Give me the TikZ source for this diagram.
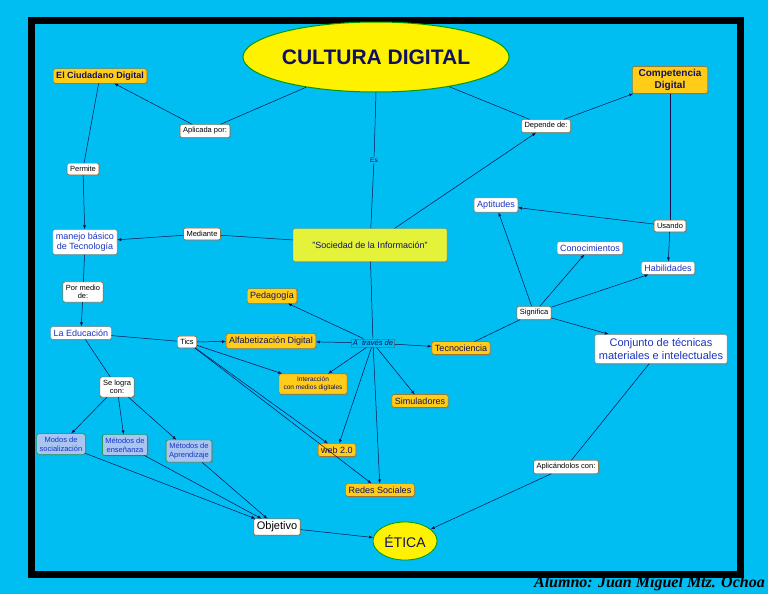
\documentclass[tikz,border=0pt]{standalone}
\usepackage{fontspec}
\setmainfont{Liberation Sans}
\newfontfamily\authfont{Liberation Serif}
\usetikzlibrary{arrows.meta,shapes.geometric,shadows}
\definecolor{bgblue}{HTML}{00BDF2}
\definecolor{ybox}{HTML}{FFCC1A}
\definecolor{lbl}{HTML}{1A33C0}
\definecolor{navy}{HTML}{101060}
\definecolor{lblue}{HTML}{A9C6F2}
\definecolor{sgreen}{HTML}{E4F23A}
\begin{document}
\begin{tikzpicture}[x=1pt,y=-1pt,
  base/.style={rounded corners=2pt,inner sep=3pt,font=\fontsize{9}{10.5}\selectfont,align=center,drop shadow={shadow xshift=1pt,shadow yshift=-1pt,fill=black!50}},
  ybx/.style={base,fill=ybox,draw=orange!70!black,text=navy},
  wlink/.style={base,fill=white,draw=orange!60!black,text=black,font=\fontsize{7.5}{8.5}\selectfont},
  wbx/.style={base,fill=white,draw=gray,text=lbl},
  lbx/.style={base,fill=lblue,draw=green!50!black,text=lbl,font=\fontsize{7.5}{9}\selectfont},
  ln/.style={draw=navy!80!black,line width=0.5pt},
  ar/.style={ln,-{Latex[length=4pt,width=3pt]}}]
\fill[bgblue] (0,0) rectangle (768,594);
\draw[black,line width=7pt] (31,21) rectangle (740,574);
\node[ellipse,fill=yellow,draw=green!60!black,line width=1pt,inner sep=0pt,minimum width=218pt,minimum height=70pt,text=navy,font=\bfseries\fontsize{21}{24}\selectfont] (cd) at (376,57) {CULTURA DIGITAL};
\node[ybx,font=\bfseries\fontsize{9}{10}\selectfont] (ciu) at (100,76) {El Ciudadano Digital};
\node[ybx,font=\bfseries\fontsize{10}{11.5}\selectfont,minimum width=75pt] (comp) at (670,80) {Competencia\\Digital};
\node[wlink] (apl) at (205,131) {Aplicada por:};
\node[wlink] (dep) at (546,126) {Depende de:};
\node[text=navy,font=\fontsize{6.5}{7}\selectfont,inner sep=1pt] (es) at (374,160) {Es};
\node[wlink] (perm) at (83,169) {Permite};
\node[wbx] (man) at (85,242) {manejo básico\\de Tecnología};
\node[wlink] (med) at (202,234) {Mediante};
\node[base,fill=sgreen,draw=gray,text=navy,minimum width=154pt,minimum height=33pt] (soc) at (370,245) {"Sociedad de la Información"};
\node[wbx] (apt) at (496,205) {Aptitudes};
\node[wlink] (usa) at (670,226) {Usando};
\node[wbx] (con) at (590,248) {Conocimientos};
\node[wbx] (hab) at (668,268) {Habilidades};
\node[wlink] (por) at (83,292) {Por medio\\de:};
\node[ybx] (ped) at (272,296) {Pedagogía};
\node[wlink] (sig) at (534,313) {Significa};
\node[wbx] (edu) at (81,333) {La Educación};
\node[wlink] (tic) at (187,342) {Tics};
\node[ybx] (alf) at (271,341) {Alfabetización Digital};
\node[text=navy,font=\itshape\fontsize{7.5}{8}\selectfont,inner sep=1.5pt,draw=orange!50!black,draw opacity=0.4] (atr) at (373,343) {A \ través de};
\node[ybx] (tec) at (461,348) {Tecnociencia};
\node[wbx,font=\fontsize{11}{13}\selectfont,inner sep=4pt] (conj) at (661,349) {Conjunto de técnicas\\materiales e intelectuales};
\node[wlink] (log) at (117,387) {Se logra\\con:};
\node[ybx,font=\fontsize{6.5}{8}\selectfont,minimum width=68pt] (int) at (313,384) {Interacción\\con medios digitales};
\node[ybx] (sim) at (420,401) {Simuladores};
\node[lbx] (mod) at (61,444) {Modos de\\socialización};
\node[lbx] (men) at (125,445) {Métodos de\\enseñanza};
\node[lbx] (map) at (189,451) {Métodos de\\Aprendizaje};
\node[ybx] (web) at (337,450) {web 2.0};
\node[wlink] (aplc) at (566,467) {Aplicándolos con:};
\node[ybx] (red) at (380,490) {Redes Sociales};
\node[wlink,font=\fontsize{11}{13}\selectfont] (obj) at (277,527) {Objetivo};
\node[ellipse,fill=yellow,draw=green!60!black,line width=0.8pt,inner sep=0pt,minimum width=64pt,minimum height=38pt,text=navy,font=\fontsize{14}{16}\selectfont] (eti) at (405,541) {ÉTICA};
% edges
\draw[ln] (cd) -- (apl); \draw[ar] (apl) -- (ciu);
\draw[ln] (ciu) -- (perm); \draw[ar] (perm) -- (man);
\draw[ln] (cd.south) -- (es); \draw[ln] (es) -- (soc);
\draw[ln] (cd) -- (dep); \draw[ar] (dep) -- (comp);
\draw[ar] (soc) -- (dep);
\draw[ln] (soc) -- (med); \draw[ar] (med) -- (man);
\draw[ln] (man) -- (por); \draw[ar] (por) -- (edu);
\draw[ln] (edu) -- (tic);
\draw[ar] (tic) -- (alf); \draw[ar] (tic) -- (int); \draw[ar] (tic) -- (web); \draw[ar] (tic) -- (red);
\draw[ln] (edu) -- (log);
\draw[ar] (log) -- (mod); \draw[ar] (log) -- (men); \draw[ar] (log) -- (map);
\draw[ar] (mod) -- (obj); \draw[ar] (men) -- (obj); \draw[ar] (map) -- (obj);
\draw[ar] (obj) -- (eti);
\draw[ln] (soc) -- (atr);
\draw[ar] (atr) -- (ped); \draw[ar] (atr) -- (alf); \draw[ar] (atr) -- (tec); \draw[ar] (atr) -- (int);
\draw[ar] (atr) -- (sim); \draw[ar] (atr) -- (web); \draw[ar] (atr) -- (red);
\draw[ln] (tec) -- (sig);
\draw[ar] (sig) -- (apt); \draw[ar] (sig) -- (con); \draw[ar] (sig) -- (hab); \draw[ar] (sig) -- (conj);
\draw[ln] (comp) -- (usa); \draw[ar] (usa) -- (apt); \draw[ar] (usa) -- (hab);
\draw[ln] (conj) -- (aplc); \draw[ar] (aplc) -- (eti);
\node[font=\authfont\bfseries\itshape\fontsize{16}{17}\selectfont,anchor=east,inner sep=0pt] (au) at (765,584) {Alumno: Juan Miguel Mtz. Ochoa};
\end{tikzpicture}
\end{document}
